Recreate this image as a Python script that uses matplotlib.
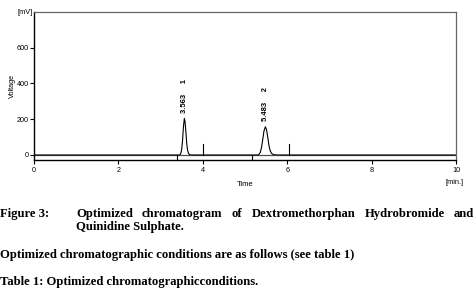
import matplotlib
matplotlib.use("Agg")
import matplotlib.pyplot as plt

# Chromatogram trace (time in min, signal in mV)
peak1_t = [3.44, 3.46, 3.48, 3.50, 3.52, 3.54, 3.563, 3.58, 3.60, 3.62, 3.64, 3.66, 3.68, 3.72]
peak1_v = [0, 2, 10, 32, 80, 155, 205, 185, 125, 62, 26, 10, 3, 0]
peak2_t = [5.30, 5.33, 5.36, 5.39, 5.42, 5.45, 5.483, 5.51, 5.54, 5.57, 5.60, 5.63, 5.66, 5.70, 5.76]
peak2_v = [0, 3, 14, 40, 86, 135, 158, 142, 98, 50, 22, 9, 4, 1, 0]
peak_times = [3.563, 5.483]
peak_heights = [205, 158]
peak_labels = ["3.563     1", "5.483     2"]
start_marks = [3.38, 5.17]    # integration start markers (below baseline)
end_marks = [4.01, 6.05]      # integration end markers (above baseline)
mark_height = 60
base_segments = [(3.45, 3.76), (5.30, 5.80)]

xticks = [0, 2, 4, 6, 8, 10]
yticks = [0, 200, 400, 600]

caption_words = ["Optimized", "chromatogram", "of", "Dextromethorphan", "Hydrobromide", "and"]

W, H = 474, 289
fig = plt.figure(figsize=(W / 100, H / 100), dpi=100)
ax = fig.add_axes([34 / W, 1 - 160 / H, (456 - 34) / W, (160 - 12) / H])

t = [0] + peak1_t + peak2_t + [10]
v = [0] + peak1_v + peak2_v + [0]
ax.axhline(0, color="#555555", lw=0.9)
ax.plot(t, v, color="black", lw=0.8)
for a, b in base_segments:
    ax.plot([a, b], [0, 0], color="#444444", lw=0.6, ls=(0, (1.5, 1.5)))
for m in start_marks:
    ax.plot([m, m], [-28, 0], color="black", lw=0.8)
for m in end_marks:
    ax.plot([m, m], [0, mark_height], color="black", lw=0.8)
for pt, ph, lab in zip(peak_times, peak_heights, peak_labels):
    ax.annotate(lab, (pt, ph), xytext=(0, 4), textcoords="offset points",
                rotation=90, ha="center", va="bottom", fontsize=5.5,
                family="Liberation Sans", fontweight="bold")

ax.set_xlim(0, 10)
ax.set_ylim(-28, 800)
ax.set_xticks(xticks)
ax.set_xticklabels([str(x) for x in xticks])
ax.set_yticks(yticks)
ax.tick_params(labelsize=5.2, length=3, width=0.8)
ax.tick_params(axis="y", pad=0.5)
ax.tick_params(axis="x", pad=2)
for lab in ax.get_xticklabels() + ax.get_yticklabels():
    lab.set_family("Liberation Sans")
for s in ["left", "bottom"]:
    ax.spines[s].set_color("black")
    ax.spines[s].set_linewidth(1.0)
for s in ["top", "right"]:
    ax.spines[s].set_color("#666666")
    ax.spines[s].set_linewidth(0.9)

ax.set_ylabel("Voltage", fontsize=5.3, family="Liberation Sans", va="center")
ax.yaxis.set_label_coords(-0.052, 0.5)
ax.set_xlabel("Time", fontsize=5.5, family="Liberation Sans", labelpad=5)
fig.text(25 / W, 1 - 13 / H, "[mV]", fontsize=5.3, family="Liberation Sans",
         ha="center", va="center")
fig.text(455 / W, 1 - 182 / H, "[min.]", fontsize=5.3, family="Liberation Sans",
         ha="center", va="center")

# Caption
cap = dict(fontsize=9.05, family="Liberation Serif", fontweight="bold", va="baseline")
fig.text(0 / W, 1 - 217 / H, "Figure 3:", **cap)

# justified first caption line between x=76 and x=474
renderer = fig.canvas.get_renderer()
texts = [fig.text(0, 1 - 217 / H, w, **cap) for w in caption_words]
widths = [tx.get_window_extent(renderer).width for tx in texts]
gap = (474 - 76 - sum(widths)) / (len(texts) - 1)
x = 76
for tx, wd in zip(texts, widths):
    tx.set_x(x / W)
    x += wd + gap

fig.text(76 / W, 1 - 230 / H, "Quinidine Sulphate.", **cap)
fig.text(0 / W, 1 - 258 / H, "Optimized chromatographic conditions are as follows (see table 1)", **cap)
fig.text(0 / W, 1 - 285 / H, "Table 1: Optimized chromatographicconditions.", **cap)

fig.savefig("out.png", dpi=100)
